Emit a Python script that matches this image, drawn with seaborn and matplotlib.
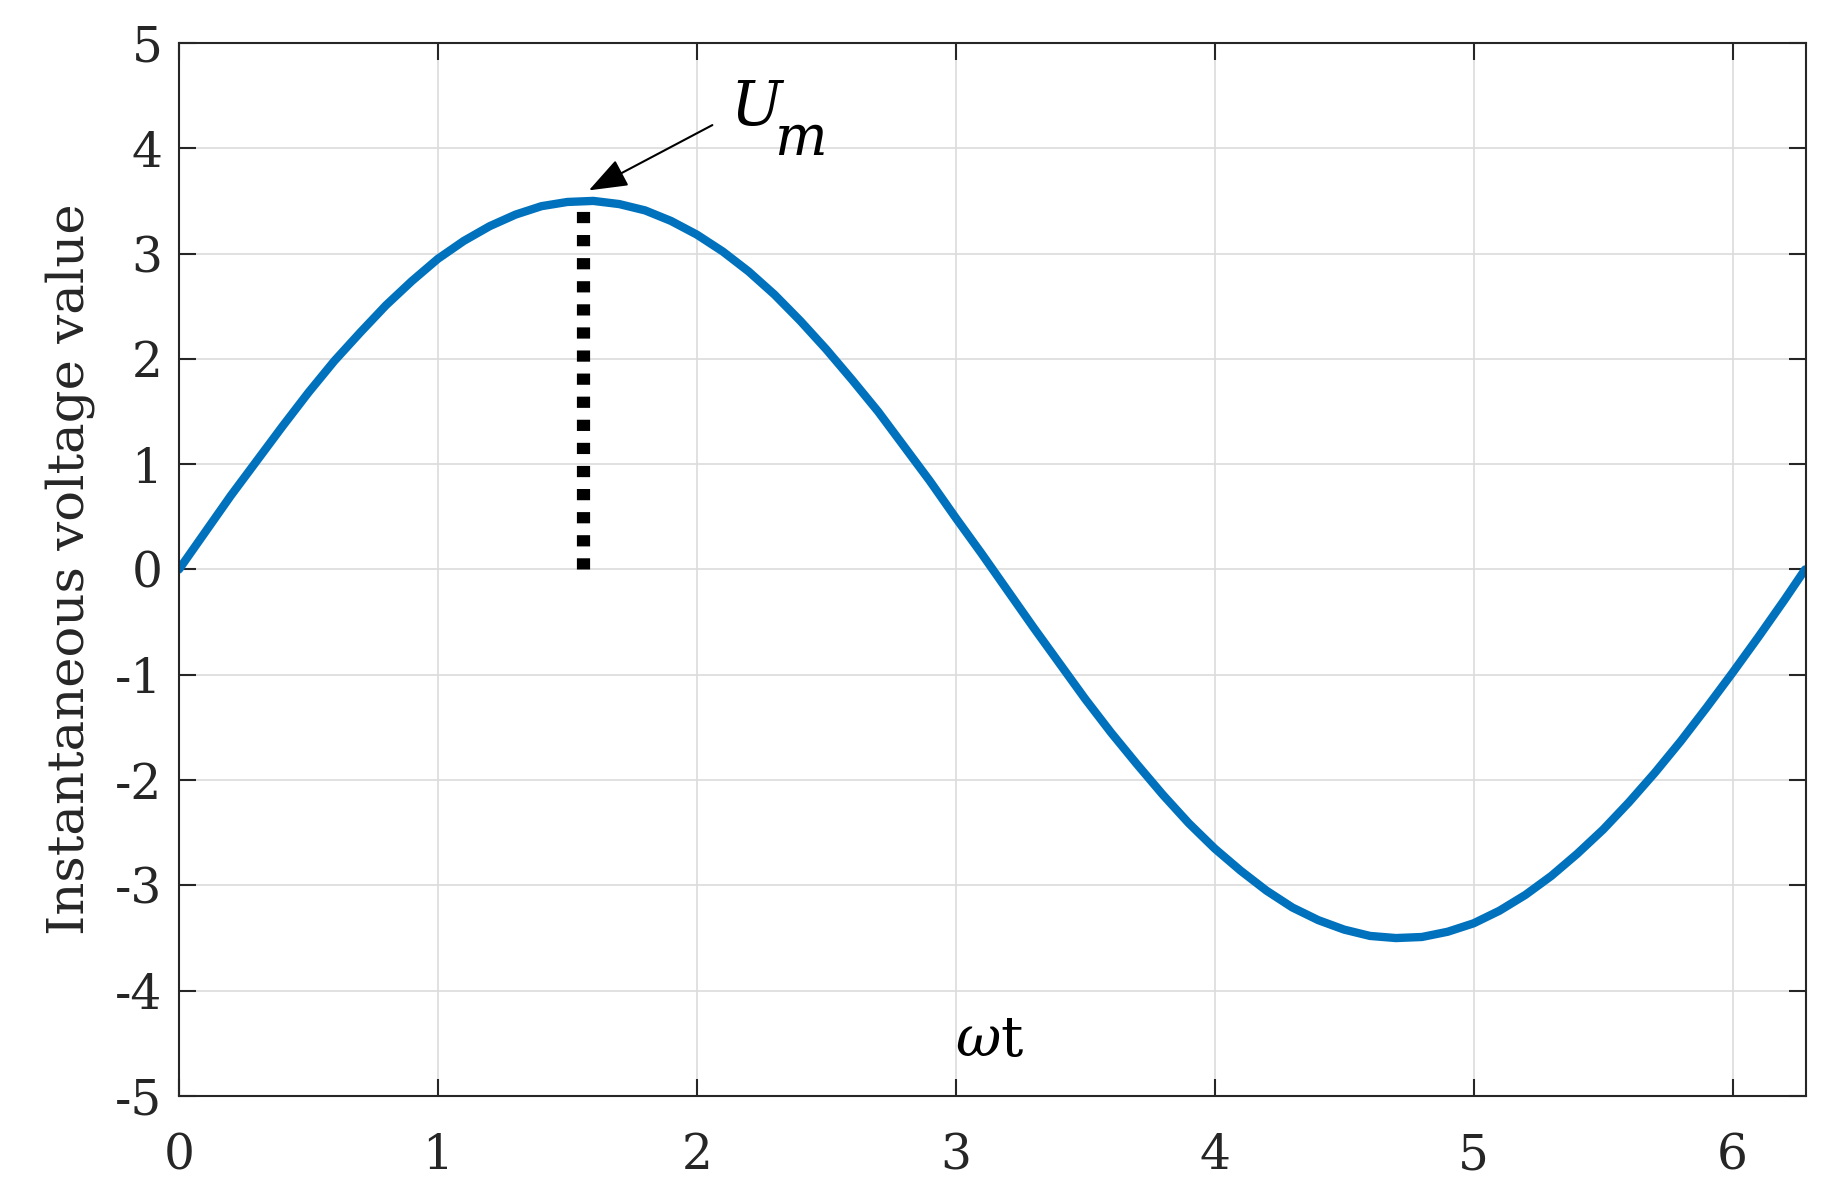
import matplotlib
matplotlib.use("Agg")
import matplotlib.pyplot as plt
import seaborn as sns

# Values (omega t vs. instantaneous voltage)
wt = [0.0, 0.1, 0.2, 0.3, 0.4, 0.5, 0.6, 0.7, 0.8, 0.9,
      1.0, 1.1, 1.2, 1.3, 1.4, 1.5, 1.6, 1.7, 1.8, 1.9,
      2.0, 2.1, 2.2, 2.3, 2.4, 2.5, 2.6, 2.7, 2.8, 2.9,
      3.0, 3.1, 3.2, 3.3, 3.4, 3.5, 3.6, 3.7, 3.8, 3.9,
      4.0, 4.1, 4.2, 4.3, 4.4, 4.5, 4.6, 4.7, 4.8, 4.9,
      5.0, 5.1, 5.2, 5.3, 5.4, 5.5, 5.6, 5.7, 5.8, 5.9,
      6.0, 6.1, 6.2, 6.28]
voltage = [0.00, 0.35, 0.70, 1.03, 1.36, 1.68, 1.98, 2.25, 2.51, 2.74,
           2.95, 3.12, 3.26, 3.37, 3.45, 3.49, 3.50, 3.47, 3.41, 3.31,
           3.18, 3.02, 2.83, 2.61, 2.36, 2.09, 1.80, 1.50, 1.17, 0.84,
           0.49, 0.15, -0.20, -0.55, -0.89, -1.23, -1.55, -1.85, -2.14, -2.41,
           -2.65, -2.86, -3.05, -3.21, -3.33, -3.42, -3.48, -3.50, -3.49, -3.44,
           -3.36, -3.24, -3.09, -2.91, -2.70, -2.47, -2.21, -1.93, -1.63, -1.31,
           -0.98, -0.64, -0.29, 0.00]

# Peak marker (dotted drop line)
peak_x = [1.56, 1.56]
peak_y = [0.0, 3.45]

xticks = [0, 1, 2, 3, 4, 5, 6]
yticks = [-5, -4, -3, -2, -1, 0, 1, 2, 3, 4, 5]

sns.set_theme(style="ticks")
plt.rcParams['font.family'] = ['DejaVu Serif']
plt.rcParams['mathtext.fontset'] = 'dejavuserif'

dark = "#262626"

fig = plt.figure(figsize=(18.26, 11.93), dpi=100)
ax = fig.add_axes([0.098, 0.0813, 0.891, 0.8827])

sns.lineplot(x=wt, y=voltage, ax=ax, color="#0072BD", linewidth=6,
             sort=False, estimator=None)
ax.plot(peak_x, peak_y, color="black", linewidth=9.5,
        linestyle=(0, (0.85, 0.9)), dash_capstyle="butt")

ax.annotate("", xy=(1.583, 3.60), xytext=(2.06, 4.22),
            arrowprops=dict(arrowstyle="-|>,head_length=0.8,head_width=0.3",
                            color="black", lw=1.5, mutation_scale=30,
                            shrinkA=0, shrinkB=0))
ax.text(2.13, 4.22, "U", fontsize=44, style="italic", ha="left",
        va="baseline", color="black")
ax.text(2.30, 3.94, "m", fontsize=40, style="italic", ha="left",
        va="baseline", color="black")
ax.text(3.13, -4.47, r"$\omega$t", fontsize=40, ha="center", va="center",
        color="black")

ax.set_xlim(0, 6.2832)
ax.set_ylim(-5, 5)
ax.set_xticks(xticks)
ax.set_yticks(yticks)
ax.set_xticklabels([str(t) for t in xticks])
ax.set_yticklabels([str(t) for t in yticks])
ax.grid(True, color="#dcdcdc", linewidth=1.2)
ax.tick_params(axis="both", direction="in", length=12, width=1.5,
               top=True, right=True, labelsize=35, colors=dark)
ax.tick_params(axis="x", pad=26)
ax.tick_params(axis="y", pad=12)
for s in ax.spines.values():
    s.set_linewidth(1.5)
    s.set_color(dark)
    s.set_visible(True)
ax.set_ylabel("Instantaneous voltage value", fontsize=37, color=dark,
              labelpad=14)

fig.savefig("out.png", dpi=100)
